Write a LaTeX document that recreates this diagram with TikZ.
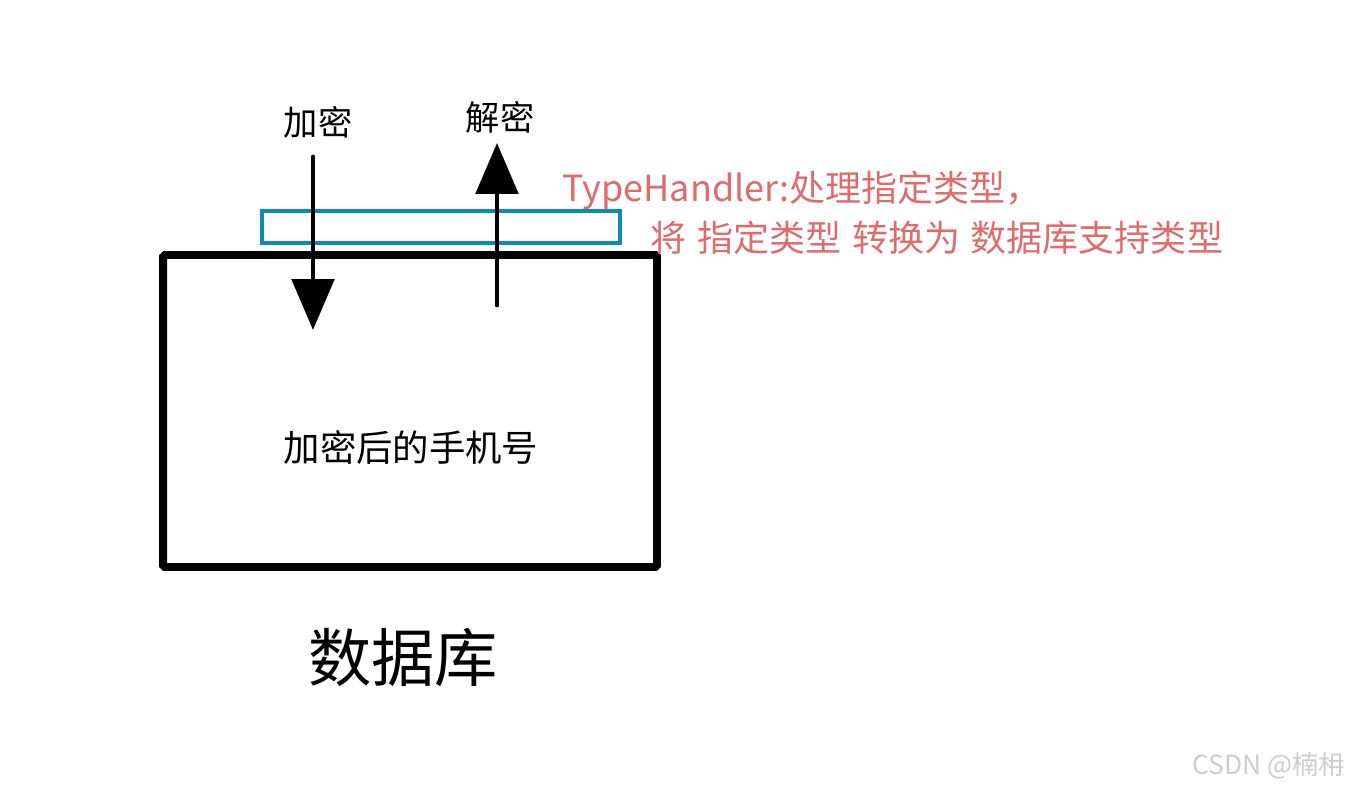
\documentclass[tikz,border=0pt]{standalone}
\usepackage{fontspec}
\setmainfont{Noto Sans CJK SC}
\usetikzlibrary{arrows.meta,positioning}
\definecolor{handlerBlue}{RGB}{8,142,180}
\definecolor{handlerRed}{RGB}{222,108,108}
\definecolor{markGray}{RGB}{205,205,205}

\begin{document}
\begin{tikzpicture}[x=0.02cm,y=-0.02cm,
  flow/.style={line width=2.8pt, line cap=round, -{Triangle[length=29pt,width=24pt]}},
  cntext/.style={font=\fontsize{19.5}{23}\selectfont, inner sep=0pt},
  note/.style={font=\fontsize{20.5}{24}\selectfont, inner sep=0pt, text=handlerRed, anchor=west}]
\useasboundingbox (0,0) rectangle (1350,789);

% database table and the handler layer
\node[draw, line width=4.5pt, rounded corners=1pt, minimum width=9.88cm, minimum height=6.24cm] (db) at (410,411) {};
\node[draw=handlerBlue, line width=2.3pt, minimum width=7.16cm, minimum height=0.64cm] (handler) at (441,227) {};

\node[cntext, font=\fontsize{20.7}{24}\selectfont] (phone) at (411,448) {加密后的手机号};
\node[font=\fontsize{36}{40}\selectfont, inner sep=0pt] (dbname) at (403,658) {数据库};

% encrypt / decrypt
\node[cntext] (enc) at (318,122) {加密};
\node[cntext] (dec) at (500,117) {解密};
\coordinate (encStart) at (313,157);
\coordinate (encEnd) at (313,330);
\coordinate (decStart) at (497,305);
\coordinate (decEnd) at (497,143);
\draw[flow] (encStart) -- (encEnd);
\draw[flow] (decStart) -- (decEnd);

\node[note] (note1) at (562,190) {TypeHandler:处理指定类型，};
\node[note] (note2) at (650,238) {将\hspace{0.3em}指定类型\hspace{0.3em}转换为\hspace{0.3em}数据库支持类型};

\node[font=\fontsize{15}{17}\selectfont, text=markGray, inner sep=0pt] (mark) at (1269,766) {CSDN @楠枏};
\end{tikzpicture}
\end{document}
